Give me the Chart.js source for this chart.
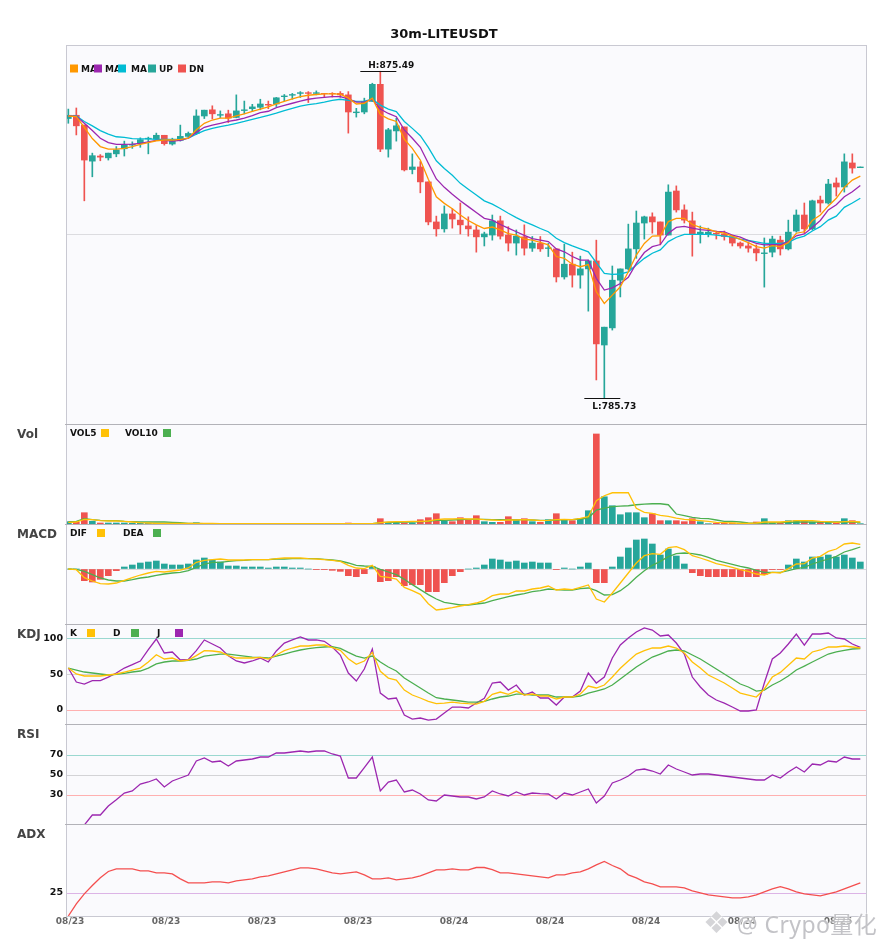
<!DOCTYPE html>
<html>
<head>
<meta charset="utf-8">
<title>30m-LITEUSDT</title>
<script src="https://cdn.jsdelivr.net/npm/chart.js@4/dist/chart.umd.min.js"></script>
<style>
  html, body { margin: 0; padding: 0; background: #fff; }
  #wrap { position: relative; width: 885px; height: 950px; overflow: hidden; }
  #mark { position: absolute; left: 737px; top: 906px; font: 23px "Noto Sans", "Noto Sans CJK SC", sans-serif; letter-spacing: .4px;
          color: rgba(175,175,180,.75); text-shadow: 0 0 2px #fff, 0 0 2px #fff; white-space: nowrap; }
  #logo { position: absolute; left: 703px; top: 905px; font: 30px "DejaVu Sans", sans-serif;
          color: rgba(195,195,200,.7); text-shadow: 0 0 2px #fff, 0 0 2px #fff; }
</style>
</head>
<body>
<div id="wrap">
  <canvas id="kline" width="885" height="950"></canvas>
  <div id="logo">&#10070;</div>
  <div id="mark">@ Crypo量化</div>
</div>
<script>
const chartTitle = "30m-LITEUSDT";
const tickIndex = [0, 12, 24, 36, 48, 60, 72, 84, 96];
const tickLabels = ["08/23", "08/23", "08/23", "08/23", "08/24", "08/24", "08/24", "08/24", "08/25"];

const opens = [862.5,863.4,860.7,850.8,852.2,851.7,852.8,854.2,855.2,855.6,
  856.9,856.9,857.9,855.5,856.5,857.6,858.4,863.2,864.9,863.4,
  863.8,862.8,864.7,865.2,865.6,866.4,866.5,868.5,868.9,869.4,
  869.6,869.4,869.4,869.4,869.4,869.0,864.1,864.3,867.2,871.9,
  854.1,859.1,860.2,848.5,849.2,845.1,834.1,832.2,836.3,834.6,
  833.0,831.9,830.0,830.5,834.4,830.5,828.3,830.0,826.9,828.2,
  826.8,826.7,819.0,822.5,819.5,821.2,823.4,800.3,805.0,818.1,
  821.2,826.7,833.8,835.5,834.1,830.5,842.6,837.4,834.4,830.8,
  830.8,831.0,830.8,830.0,828.3,827.5,826.7,825.4,825.8,829.1,
  826.7,831.6,836.0,832.2,840.1,839.3,844.8,843.7,850.3,849.0];
const closes = [863.4,860.5,851.1,852.3,851.9,853.0,853.9,855.2,855.4,856.7,
  857.1,857.9,855.6,856.4,857.6,858.4,863.2,864.8,863.8,863.6,
  862.6,864.6,864.9,865.7,866.5,866.2,868.2,868.7,869.1,869.6,
  869.4,869.6,869.3,869.3,869.0,864.3,864.3,867.2,871.9,854.1,
  859.4,860.5,848.4,849.2,845.1,834.1,832.2,836.3,834.9,833.3,
  832.2,830.0,830.8,834.4,830.2,828.3,830.2,826.9,828.3,826.7,
  827.0,819.0,822.5,819.5,821.2,823.4,800.6,805.2,818.1,821.2,
  826.7,833.8,835.5,834.1,830.5,842.3,837.4,834.6,830.8,831.3,
  831.3,830.8,830.1,828.3,827.5,826.9,825.6,825.6,829.4,826.7,
  831.3,836.0,832.2,839.9,839.3,844.5,843.7,850.6,848.9,849.2];
const highs = [865.1,865.4,860.7,853.0,852.6,853.0,854.8,856.3,856.1,857.2,
  857.4,858.5,857.9,857.1,860.7,858.8,864.9,864.8,866.0,864.6,
  864.8,869.0,867.3,866.4,867.8,867.3,868.3,869.1,869.4,869.9,
  869.9,870.1,869.4,869.6,869.9,869.9,865.3,868.1,872.2,875.49,
  859.8,862.6,860.2,852.8,850.7,845.1,835.7,838.5,837.7,839.3,
  835.5,833.1,831.3,836.0,835.7,832.8,831.9,833.3,830.1,830.1,
  828.2,826.7,828.0,825.8,824.7,823.6,829.1,805.2,822.0,821.2,
  833.5,837.1,835.7,836.6,834.1,844.3,844.0,838.8,836.8,833.0,
  832.4,831.6,831.6,830.5,828.6,828.6,827.8,829.7,830.2,830.2,
  834.6,837.4,839.3,840.1,841.2,845.8,846.2,852.8,852.8,849.2];
const lows = [861.2,858.0,839.9,846.5,850.9,851.1,852.0,852.2,854.3,854.6,
  852.8,856.6,855.2,855.2,856.3,857.4,858.1,862.5,862.4,862.7,
  861.4,862.7,863.8,864.4,864.9,865.2,865.8,867.4,867.8,868.3,
  866.9,869.0,868.3,868.4,868.3,858.5,862.9,863.8,867.2,853.4,
  851.9,856.3,848.1,847.3,842.1,833.3,830.2,831.3,832.4,830.8,
  830.2,825.8,827.5,829.1,829.4,826.1,825.0,825.0,826.0,826.0,
  824.6,817.6,818.4,816.2,815.9,809.6,790.7,785.73,804.4,813.5,
  820.9,824.1,829.4,831.0,827.8,830.5,836.8,833.8,824.7,828.3,
  830.0,829.4,829.1,827.5,826.9,825.8,823.4,816.2,824.5,825.0,
  826.4,831.3,831.1,831.9,836.8,839.0,841.2,842.3,847.5,849.0];

const ma1 = [863.2,863.0,860.1,857.0,854.8,854.1,854.1,854.3,854.8,855.4,
  855.9,856.4,856.6,856.6,856.8,857.1,859.4,861.2,862.1,862.6,
  862.6,863.2,863.8,864.5,865.1,865.7,866.5,867.2,867.9,868.5,
  868.9,869.1,869.3,869.3,869.2,868.1,866.5,866.7,868.1,863.6,
  862.4,861.7,856.8,854.3,851.1,845.8,841.0,839.2,837.7,836.0,
  834.5,833.3,832.3,832.7,831.9,830.9,830.5,829.4,829.1,828.5,
  827.8,824.6,824.1,822.5,821.8,822.4,814.9,811.7,814.0,816.3,
  820.4,825.0,828.2,830.2,830.3,834.2,835.1,835.1,833.4,832.6,
  832.1,831.4,831.0,830.2,829.3,828.4,827.3,826.9,827.6,827.3,
  828.4,831.0,831.4,834.5,836.0,838.5,840.6,843.6,845.6,846.7];
const ma2 = [863.2,863.1,861.2,859.2,857.1,855.9,855.4,855.4,855.5,855.7,
  856.1,856.5,856.5,856.3,856.5,857.1,858.7,860.1,860.7,861.2,
  861.7,862.1,862.6,863.3,864.1,864.5,865.5,866.1,866.7,867.3,
  867.8,868.1,868.3,868.5,868.5,867.9,867.0,867.0,867.8,865.1,
  863.9,863.0,859.4,857.1,854.6,850.2,845.9,843.6,841.7,839.9,
  838.3,836.7,835.1,834.6,833.4,832.4,831.4,830.4,829.5,829.1,
  828.7,826.7,825.9,824.6,823.6,823.6,818.6,815.4,816.0,817.2,
  818.9,822.7,825.7,827.3,827.9,831.0,832.6,832.9,832.4,832.0,
  831.8,831.5,831.4,830.5,829.9,829.0,828.2,827.8,827.9,827.8,
  828.7,830.3,830.8,832.6,834.5,837.4,838.8,841.0,842.4,844.1];
const ma3 = [863.2,863.2,861.7,860.5,859.2,858.2,857.5,857.3,857.0,856.9,
  856.9,856.8,856.8,856.8,856.8,857.1,858.2,859.2,859.8,860.3,
  860.7,861.2,861.7,862.3,862.8,863.4,864.0,864.7,865.3,865.9,
  866.3,866.6,867.0,867.5,867.8,867.5,867.2,867.3,867.8,866.2,
  865.1,864.4,861.7,859.8,857.8,854.6,850.9,848.8,846.9,844.7,
  843.1,841.5,839.9,839.0,837.8,836.5,835.3,834.2,833.3,832.3,
  831.4,829.6,828.4,827.5,826.7,825.9,822.9,820.0,819.7,819.8,
  820.4,822.3,824.1,825.5,826.4,828.7,829.9,830.7,830.7,830.7,
  830.7,830.5,830.2,829.9,829.4,829.0,828.6,828.2,828.2,828.2,
  828.5,829.6,830.2,831.6,832.8,834.6,835.7,838.1,839.3,840.6];

const volumes = [7,5,34,8,3,3,3,3,2,2,
  2,2,2,2,2,2,4,1,1,1,
  1,1,1,1,1,1,1,1,1,1,
  1,1,1,1,1,3,1,1,1,16,
  3,3,3,3,13,19,31,8,7,19,
  11,25,7,5,5,22,13,16,7,5,
  13,31,13,10,16,40,271,82,55,28,
  34,34,19,31,10,10,10,7,16,7,
  1,2,2,3,2,2,6,16,4,3,
  10,10,7,5,5,7,4,16,10,1];
const vol5 = [5,6,14,13,10,9,9,8,6,4,
  3,2,2,2,2,2,2,2,2,1,
  1,1,1,1,1,1,1,1,1,1,
  1,1,1,1,1,1,1,1,1,4,
  6,7,7,8,8,9,13,15,15,16,
  15,15,13,12,11,12,12,13,12,10,
  11,13,14,13,17,22,70,85,94,94,
  94,47,35,32,26,23,18,14,12,10,
  8,5,4,3,2,2,3,6,6,6,
  8,10,10,10,8,7,5,7,8,6];
const vol10 = [6,8,16,13,11,10,10,8,7,6,
  6,6,6,5,4,2,2,1,1,1,
  1,1,1,1,1,1,1,1,1,1,
  1,1,1,1,1,1,1,1,1,4,
  5,5,6,6,7,8,11,11,12,13,
  14,14,14,13,13,13,13,13,12,11,
  11,12,13,13,15,18,42,48,52,54,
  55,58,60,61,61,58,30,25,20,17,
  16,12,8,8,6,3,2,3,3,4,
  5,6,6,6,6,6,6,6,6,5];

const macdHist = [0,0,-3.5,-3.9,-3.1,-2.0,-0.5,0.6,1.2,1.8,
  2.1,2.4,1.5,1.2,1.2,1.5,2.7,3.3,2.7,2.1,
  0.9,0.9,0.6,0.6,0.6,0.3,0.6,0.6,0.3,0.3,
  0,-0.1,-0.1,-0.4,-0.7,-2.0,-2.3,-1.4,0.7,-3.8,
  -3.5,-2.3,-5.0,-4.7,-4.7,-6.8,-6.8,-4.1,-2.0,-0.8,
  0,0.3,1.2,3.0,2.7,2.1,2.4,1.8,2.1,1.8,
  1.8,-0.2,0.3,0,0.6,1.8,-4.1,-4.1,0.6,3.6,
  6.3,8.7,9.0,7.5,4.2,6.0,3.9,1.5,-1.1,-2.0,
  -2.3,-2.3,-2.3,-2.3,-2.3,-2.3,-2.3,-1.7,-0.2,-0.2,
  1.2,3.0,2.1,3.6,3.6,4.2,3.6,4.2,3.3,2.1];
const dif = [0,-0.2,-2.6,-3.6,-4.4,-4.5,-4.2,-3.4,-2.6,-1.8,
  -1.2,-0.7,-0.9,-0.6,-0.3,0.3,2.0,2.6,2.8,3.0,
  2.7,2.7,2.7,2.8,2.8,2.8,3.1,3.3,3.3,3.3,
  3.1,3.0,2.8,2.6,2.3,1.1,0.3,0.1,1.1,-2.2,
  -2.5,-3.0,-5.5,-6.5,-7.6,-10.4,-12.3,-12.0,-11.6,-11.1,
  -10.7,-10.2,-9.4,-8.0,-7.5,-7.5,-6.6,-6.6,-6.0,-5.7,
  -5.1,-6.3,-6.0,-6.2,-5.5,-4.8,-9.0,-9.9,-7.2,-4.2,
  -1.2,1.8,4.0,4.6,4.4,6.4,6.7,5.8,4.0,3.3,
  2.5,1.6,1.1,0.5,-0.2,-0.7,-1.5,-1.8,-1.0,-1.2,
  0.1,1.5,1.6,3.3,3.8,5.3,6.0,7.5,7.8,7.4];
const dea = [0,-0.1,-0.7,-1.7,-2.7,-3.3,-3.6,-3.6,-3.2,-2.7,
  -2.4,-1.9,-1.5,-1.2,-1.0,-0.5,0.5,1.5,2.0,2.0,
  2.3,2.5,2.6,2.8,2.8,2.8,3.0,3.0,3.1,3.1,
  3.1,3.1,2.9,2.7,2.4,1.8,1.1,0.9,0.8,-0.1,
  -0.9,-1.7,-3.1,-4.7,-6.2,-7.7,-9.0,-10.0,-10.4,-10.8,
  -10.8,-10.5,-10.2,-9.5,-8.9,-8.3,-7.8,-7.4,-6.8,-6.5,
  -6.0,-6.2,-6.3,-6.3,-5.9,-5.7,-6.5,-7.8,-7.7,-6.5,
  -4.7,-2.5,-0.5,1.1,2.3,3.7,4.6,4.8,4.6,4.2,
  3.5,2.6,2.0,1.4,0.8,0.3,-0.4,-1.0,-1.0,-1.0,
  -0.5,0.1,0.5,1.5,2.3,3.0,3.8,5.1,5.8,6.6];

const kValues = [59.1,50.7,47.9,47.9,47.9,49.3,50.7,53.5,56.3,59.1,
  67.6,77.9,71.8,73.2,69.0,70.4,76.5,83.5,83.1,81.7,
  76.5,73.2,73.2,73.2,74.1,71.8,77.4,83.5,87.3,90.1,
  90.1,91.5,91.5,87.8,84.0,72.3,64.3,69.0,81.2,54.4,
  45.0,42.2,28.1,21.1,16.9,12.2,8.9,9.8,11.2,9.8,
  8.9,8.4,12.2,22.0,25.3,22.0,26.7,21.1,22.5,19.7,
  19.7,15.5,18.3,18.3,22.5,33.8,31.0,35.2,46.4,58.7,
  69.0,78.8,83.5,87.3,87.3,90.1,87.3,80.3,67.6,59.1,
  49.3,43.6,38.0,31.0,23.9,21.1,18.3,29.6,46.4,53.0,
  62.9,73.2,71.8,81.7,84.5,88.7,88.7,90.1,88.7,87.3];
const dValues = [59.1,56.3,53.5,52.1,50.7,49.3,50.2,51.6,53.5,54.9,
  59.1,64.8,67.6,69.0,69.0,69.9,71.8,76.0,77.4,78.8,
  78.8,77.4,76.0,74.6,74.1,73.2,76.0,78.8,81.7,84.5,
  86.4,87.8,88.7,89.2,86.8,81.2,76.0,73.2,76.0,67.6,
  60.5,54.9,45.0,38.0,31.0,23.9,17.3,15.5,14.1,12.7,
  11.2,11.2,12.2,15.5,18.3,19.7,22.5,22.5,21.1,21.1,
  21.1,18.3,18.3,18.3,19.7,23.9,26.7,29.6,35.2,43.6,
  52.1,60.5,67.6,74.6,78.8,83.1,84.5,83.1,77.4,71.8,
  64.8,57.7,50.7,43.6,36.6,32.4,26.7,28.1,35.2,40.8,
  47.9,56.3,61.9,67.6,73.2,78.8,81.7,84.0,85.9,86.4];
const jValues = [59.1,39.4,36.6,41.3,41.3,46.4,52.1,59.1,63.8,69.0,
  85.0,100,80.3,81.7,70.4,71.3,83.5,98.6,92.9,87.3,
  76.5,69.0,66.2,69.0,73.2,67.6,83.1,94.3,98.6,102.8,
  98.6,98.6,96.7,88.7,77.4,52.1,40.8,57.7,85.9,23.9,
  15.5,16.9,-7.1,-12.7,-11.3,-14.1,-12.7,-4.3,4.2,4.2,
  2.8,9.8,16.4,38.0,39.4,28.1,35.2,21.1,25.3,16.9,
  16.9,7.0,18.3,18.3,26.7,52.1,38.0,46.4,73.2,91.5,
  101.4,109.8,115.5,112.6,104.2,105.6,94.3,78.8,46.4,32.4,
  21.1,14.1,9.8,4.2,-1.4,-1.4,0,38.0,71.8,80.3,
  92.9,107.0,91.5,107.0,107.0,108.4,101.4,100,92.9,88.2];

const rsiValues = [0,0,0,10,10,19,25.3,32,34,41,
  43,46,38,44,47,50,64,67,63,64,
  59,64,65,66,68,68,72,72,73,74,
  73,74,74,71,69,47,47,57.3,68,34,
  43,45,33,35,31,25,24,30,29,28,
  28,26,28,34,31,29,33,30,32,31.3,
  31,26,32,30,33,36,22,29,42,45,
  49,55,56,54,51,60,56,53,50,51,
  51,50,49,48,47,46,45,45,50,47,
  53,58,53,61,60,64,63,68,66,66];

const adxValues = [0,13.1,24,33.1,41.5,48.4,51.3,51.3,51.3,49.1,
  49.1,46.9,46.9,45.8,40.4,36,36,36,37.1,37.1,
  36,38.2,39.3,40.4,42.5,43.6,45.8,48,50.2,52.4,
  52.4,51.3,49.1,46.9,45.8,46.9,48,44.7,40.4,40.4,
  41.5,39.3,40.4,41.5,43.6,46.9,50.2,50.2,51.3,50.2,
  50.2,52.7,52.7,50.5,46.9,46.9,45.8,44.7,43.6,42.5,
  41.5,44.7,44.7,46.9,48,51.3,55.6,59.3,54.9,51.3,
  44.7,41.5,37.1,34.9,31.6,31.6,31.6,30.5,27.3,25.1,
  22.9,21.8,20.7,19.6,19.6,20.7,22.9,26.2,29.5,32,
  29.5,26.2,24,22.9,21.8,24,26.2,29.5,32.7,36];

const kdjLevels = [0, 50, 100];
const rsiLevels = [30, 50, 70];
const adxLevels = [25];

const UP = "#26a69a", DN = "#ef5350";
const ORANGE = "#ff9800", PURPLE = "#9c27b0", CYAN = "#00bcd4", YELLOW = "#ffc107", GREEN = "#4caf50";
const FONT = '"DejaVu Sans", sans-serif';

const idx = opens.map((_, i) => i);
const upDown = idx.map(i => closes[i] >= opens[i] ? UP : DN);

function lineSet(values, color, yAxis, width) {
  return {
    type: "line",
    data: idx.map(i => ({ x: i, y: values[i] })),
    borderColor: color,
    borderWidth: width || 1.3,
    pointRadius: 0,
    tension: 0,
    yAxisID: yAxis,
    order: 1
  };
}

function barSet(data, colors, yAxis, thickness, order) {
  return {
    type: "bar",
    data: data,
    backgroundColor: colors,
    barThickness: thickness,
    grouped: false,
    yAxisID: yAxis,
    order: order
  };
}

// panels are stacked y axes, listed bottom first
function panelAxis(weight, min, max, levels, levelColors, showLabels) {
  return {
    type: "linear",
    position: "left",
    stack: "panels",
    stackWeight: weight,
    min: min,
    max: max,
    afterFit: s => { s.width = 66; },
    afterBuildTicks: s => { s.ticks = levels.map(v => ({ value: v })); },
    border: { display: false },
    grid: {
      drawTicks: false,
      lineWidth: 1,
      color: c => levelColors[levels.indexOf(c.tick.value)] || "transparent"
    },
    ticks: {
      padding: 3,
      color: "#111",
      font: { family: FONT, size: 9.5, weight: "bold" },
      callback: v => showLabels ? String(v) : ""
    }
  };
}

const legends = [
  { y: 69, items: [[ "MA", 81, ORANGE, 70 ], [ "MA", 105, PURPLE, 94 ], [ "MA", 131, CYAN, 118 ], [ "UP", 159, UP, 148 ], [ "DN", 189, DN, 178 ]] },
  { y: 433.5, items: [[ "VOL5", 70, YELLOW, 101 ], [ "VOL10", 125, GREEN, 163 ]] },
  { y: 533.5, items: [[ "DIF", 70, YELLOW, 97 ], [ "DEA", 123, GREEN, 153 ]] },
  { y: 633.5, items: [[ "K", 70, YELLOW, 87 ], [ "D", 113, GREEN, 131 ], [ "J", 157, PURPLE, 175 ]] }
];
const panelNames = [["Vol", "yVol"], ["MACD", "yMacd"], ["KDJ", "yKdj"], ["RSI", "yRsi"], ["ADX", "yAdx"]];
const panelIds = ["yMain", "yVol", "yMacd", "yKdj", "yRsi", "yAdx"];

const panelPlugin = {
  id: "panels",
  beforeDraw(chart) {
    const { ctx, chartArea: a } = chart;
    ctx.save();
    ctx.fillStyle = "#fafafd";
    ctx.fillRect(a.left, a.top, a.right - a.left, a.bottom - a.top);
    ctx.restore();
  },
  afterDraw(chart) {
    const { ctx, chartArea: a, scales } = chart;
    ctx.save();

    // frame
    ctx.lineWidth = 1;
    ctx.strokeStyle = "#c9c9d2";
    ctx.strokeRect(Math.round(a.left) + 0.5, Math.round(a.top) + 0.5, a.right - a.left, a.bottom - a.top);
    ctx.strokeStyle = "#b2b2b8";
    panelIds.slice(1).forEach(id => {
      const y = Math.round(scales[id].top) + 0.5;
      ctx.beginPath();
      ctx.moveTo(a.left - 1, y);
      ctx.lineTo(a.right + 1, y);
      ctx.stroke();
    });

    // title
    ctx.fillStyle = "#111";
    ctx.font = "bold 13px " + FONT;
    ctx.textAlign = "center";
    ctx.textBaseline = "middle";
    ctx.fillText(chartTitle, 444, 34.5);

    // panel names
    ctx.textAlign = "left";
    ctx.fillStyle = "#444";
    ctx.font = "bold 12px " + FONT;
    panelNames.forEach(([name, id]) => ctx.fillText(name, 17, scales[id].top + 10.5));

    // legends
    ctx.font = "bold 9px " + FONT;
    legends.forEach(row => {
      row.items.forEach(([label, textX, color, boxX]) => {
        ctx.fillStyle = "#111";
        ctx.fillText(label, textX, row.y + 0.5);
        ctx.fillStyle = color;
        ctx.fillRect(boxX, row.y - 4.5, 8, 8);
      });
    });

    // high / low marks
    const hi = Math.max(...highs), lo = Math.min(...lows);
    const hx = scales.x.getPixelForValue(highs.indexOf(hi)), hy = scales.yMain.getPixelForValue(hi);
    const lx = scales.x.getPixelForValue(lows.indexOf(lo)), ly = scales.yMain.getPixelForValue(lo);
    ctx.strokeStyle = "#111";
    ctx.beginPath();
    ctx.moveTo(hx - 20, Math.round(hy) + 0.5);
    ctx.lineTo(hx + 16, Math.round(hy) + 0.5);
    ctx.moveTo(lx - 20, Math.round(ly) + 0.5);
    ctx.lineTo(lx + 16, Math.round(ly) + 0.5);
    ctx.stroke();
    ctx.fillStyle = "#111";
    ctx.fillText("H:" + hi.toFixed(2), hx - 12, hy - 6);
    ctx.fillText("L:" + lo.toFixed(2), lx - 12, ly + 9);
    ctx.restore();
  }
};

new Chart(document.getElementById("kline"), {
  data: {
    datasets: [
      lineSet(ma1, ORANGE, "yMain"),
      lineSet(ma2, PURPLE, "yMain"),
      lineSet(ma3, CYAN, "yMain"),
      barSet(idx.map(i => ({ x: i, y: [opens[i], closes[i]] })), upDown, "yMain", 6, 2),
      barSet(idx.map(i => ({ x: i, y: [lows[i], highs[i]] })), upDown, "yMain", 1, 3),
      lineSet(vol5, YELLOW, "yVol"),
      lineSet(vol10, GREEN, "yVol"),
      barSet(idx.map(i => ({ x: i, y: volumes[i] })), upDown, "yVol", 6, 2),
      lineSet(dif, YELLOW, "yMacd"),
      lineSet(dea, GREEN, "yMacd"),
      barSet(idx.map(i => ({ x: i, y: macdHist[i] })), macdHist.map(v => v >= 0 ? UP : DN), "yMacd", 6, 2),
      lineSet(kValues, YELLOW, "yKdj"),
      lineSet(dValues, GREEN, "yKdj"),
      lineSet(jValues, PURPLE, "yKdj"),
      lineSet(rsiValues, PURPLE, "yRsi"),
      lineSet(adxValues, "#f44f4f", "yAdx")
    ]
  },
  options: {
    responsive: false,
    devicePixelRatio: 1,
    animation: false,
    events: [],
    layout: { padding: { top: 45, right: 19, left: 0, bottom: 0 } },
    plugins: { legend: { display: false }, title: { display: false }, tooltip: { enabled: false } },
    scales: {
      x: {
        type: "linear",
        position: "bottom",
        offset: false,
        min: -0.29,
        max: 99.71,
        afterFit: s => { s.height = 34; },
        afterBuildTicks: s => { s.ticks = tickIndex.map(v => ({ value: v })); },
        border: { display: false },
        grid: { display: false, offset: false, drawTicks: false },
        ticks: {
          autoSkip: false,
          maxRotation: 0,
          padding: 0,
          labelOffset: 1.7,
          color: "#666",
          font: { family: FONT, size: 9, weight: "bold" },
          callback: v => tickLabels[tickIndex.indexOf(v)]
        }
      },
      yAdx: panelAxis(92, 0, 100, adxLevels, ["#dcb4e6"], true),
      yRsi: panelAxis(100, 1, 101, rsiLevels, ["#ffb0b0", "#d3d3d6", "#9ad8d0"], true),
      yKdj: panelAxis(100, -19.7, 121.1, kdjLevels, ["#ffb0b0", "#d3d3d6", "#9ad8d0"], true),
      yMacd: panelAxis(100, -16.5, 13.5, [0], ["#d9d9dc"], false),
      yVol: panelAxis(100, 0, 301, [], [], false),
      yMain: panelAxis(379, 778.6, 882.7, [830.65], ["#dcdce0"], false)
    }
  },
  plugins: [panelPlugin]
});
</script>
</body>
</html>
